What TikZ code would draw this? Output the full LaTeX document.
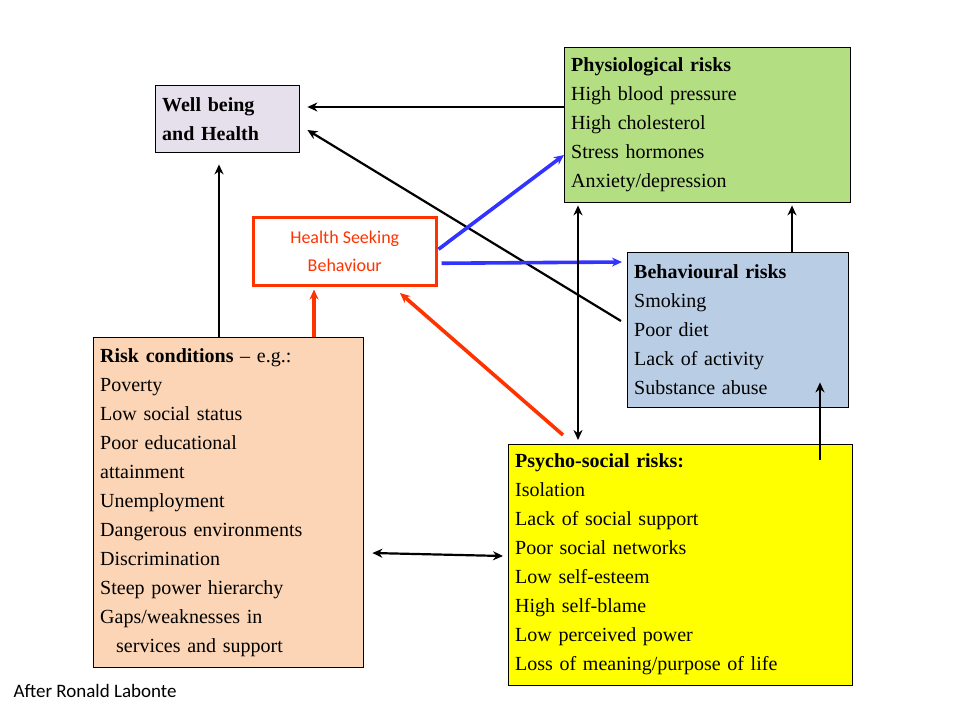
\documentclass[tikz,border=0pt]{standalone}
\usepackage{fontspec}
\setmainfont{Liberation Serif}
\newfontfamily\calib{Carlito}
\usetikzlibrary{positioning, arrows.meta}
\definecolor{wellcolor}{RGB}{230,224,236}
\definecolor{physcolor}{RGB}{179,222,129}
\definecolor{behavcolor}{RGB}{185,205,229}
\definecolor{riskcolor}{RGB}{251,213,181}
\definecolor{psychcolor}{RGB}{255,255,0}
\definecolor{hsbred}{RGB}{255,51,0}
\definecolor{arrowblue}{RGB}{51,51,255}
\tikzset{
  box/.style={draw, anchor=north west, align=left, inner sep=7pt,
    font=\fontsize{20}{29}\selectfont},
  blk/.style={-{Stealth[length=10pt, width=9pt]}, line width=2.2pt},
  redarr/.style={blk, hsbred, line width=3.6pt},
  bluarr/.style={blk, arrowblue, line width=3.6pt}
}
\begin{document}
\begin{tikzpicture}[x=1pt, y=-1pt]
    \useasboundingbox (0,0) rectangle (960,720);

    % === BOXES ===
    \node[box, fill=wellcolor, text width=130pt, minimum height=67pt] (well) at (155,85)
      {\textbf{Well being}\\\textbf{and Health}};
    \node[box, fill=physcolor, text width=272pt, minimum height=155pt] (phys) at (564,47)
      {\textbf{Physiological risks}\\High blood pressure\\High cholesterol\\Stress hormones\\Anxiety/depression};
    \node[box, draw=hsbred, line width=2.5pt, text=hsbred, align=center, font=\calib\fontsize{18}{28}\selectfont,
      minimum width=183pt, minimum height=68pt] (hsb) at (252,216) {Health Seeking\\Behaviour};
    \node[box, fill=behavcolor, text width=207pt, minimum height=155pt] (behav) at (627,252)
      {\textbf{Behavioural risks}\\Smoking\\Poor diet\\Lack of activity\\Substance abuse};
    \node[box, fill=riskcolor, text width=256pt, minimum height=330pt] (risk) at (93,337)
      {\textbf{Risk conditions} -- e.g.:\\Poverty\\Low social status\\Poor educational\\attainment\\Unemployment\\Dangerous environments\\Discrimination\\Steep power hierarchy\\Gaps/weaknesses in\\\hspace{16pt}services and support};
    \node[box, fill=psychcolor, text width=330pt, minimum height=241pt] (psych) at (508,444)
      {\textbf{Psycho-social risks:}\\Isolation\\Lack of social support\\Poor social networks\\Low self-esteem\\High self-blame\\Low perceived power\\Loss of meaning/purpose of life};
    \node[anchor=west, font=\calib\fontsize{19}{22}\selectfont] (credit) at (10,691) {After Ronald Labonte};

    % === CONNECTORS ===
    \coordinate (physw) at (phys.north west |- 0,107);
    \coordinate (wellin) at (well.east |- 0,107);
    \draw[blk] (physw) -- ([xshift=8pt]wellin);
    \coordinate (behavw) at (621,321);
    \draw[blk] (behavw) -- ([xshift=8pt]well.east |- 0,130);
    \draw[blk] (risk.north -| 219,0) -- ([yshift=-12pt]well.south -| 219,0);
    \draw[redarr] (risk.north -| 314,0) -- ([yshift=-3pt]hsb.south -| 314,0);
    \coordinate (psychtop) at (563,435);
    \coordinate (hsbse) at (400,293);
    \draw[redarr] (psychtop) -- (hsbse);
    \draw[bluarr] ([xshift=1pt, yshift=2pt]hsb.east) -- (phys.west |- 0,155);
    \draw[bluarr] ([xshift=4pt, yshift=-12pt]hsb.east) -- ([xshift=-5pt]behav.west |- 0,262);
    \draw[blk, {Stealth[length=10pt, width=9pt]}-{Stealth[length=10pt, width=9pt]}]
      ([yshift=-3pt]phys.south -| 578,0) -- ([yshift=4pt]psych.north -| 578,0);
    \draw[blk] (behav.north -| 792,0) -- ([yshift=-3pt]phys.south -| 792,0);
    \draw[blk] ([yshift=-16pt]psych.north -| 820,0) -- ([yshift=25pt]behav.south -| 820,0);
    \draw[blk, {Stealth[length=10pt, width=9pt]}-{Stealth[length=10pt, width=9pt]}]
      ([xshift=9pt]risk.east |- 0,553) -- ([xshift=-5pt]psych.west |- 0,556);
\end{tikzpicture}
\end{document}
